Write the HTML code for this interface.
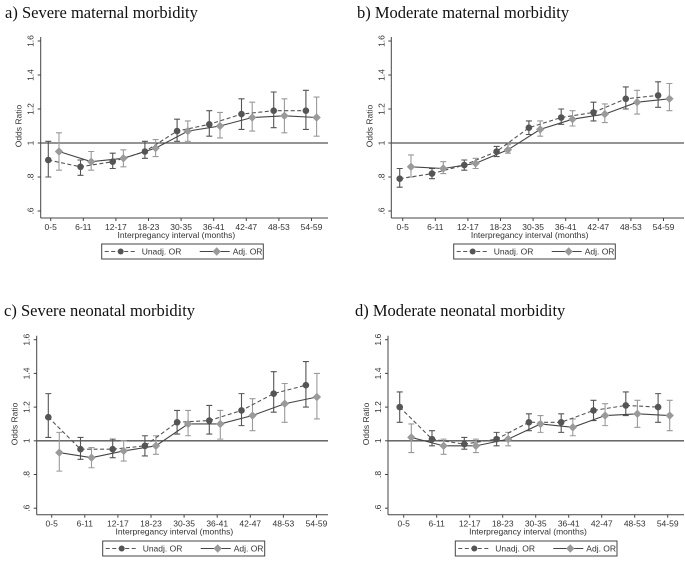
<!DOCTYPE html>
<html><head><meta charset="utf-8">
<style>
html,body{margin:0;padding:0;background:#fff;}
svg{display:block;}
.t{font-family:"Liberation Serif",serif;font-size:16.5px;fill:#111;}
.s{font-family:"Liberation Sans",sans-serif;font-size:8.5px;fill:#333;}
</style></head>
<body>
<svg id="chart" width="685" height="563" viewBox="0 0 685 563" xmlns="http://www.w3.org/2000/svg"></svg>
<script>
const categories = ["0-5","6-11","12-17","18-23","30-35","36-41","42-47","48-53","54-59"];
const yTicks = [0.6,0.8,1,1.2,1.4,1.6];
const yTickLabels = [".6",".8","1","1.2","1.4","1.6"];
const titles = ["a) Severe maternal morbidity","b) Moderate maternal morbidity","c) Severe neonatal morbidity","d) Moderate neonatal morbidity"];

const aUnadj = [0.90,0.86,0.89,0.95,1.07,1.11,1.17,1.19,1.19];
const aUnadjLo = [0.80,0.81,0.85,0.91,1.01,1.04,1.08,1.09,1.08];
const aUnadjHi = [1.01,0.90,0.94,1.01,1.14,1.19,1.26,1.30,1.31];
const aAdj = [0.95,0.89,0.91,0.97,1.07,1.10,1.15,1.16,1.15];
const aAdjLo = [0.84,0.84,0.86,0.92,1.01,1.03,1.07,1.06,1.04];
const aAdjHi = [1.06,0.95,0.96,1.02,1.13,1.18,1.24,1.26,1.27];

const bUnadj = [0.79,0.82,0.87,0.95,1.09,1.15,1.18,1.26,1.28];
const bUnadjLo = [0.74,0.79,0.84,0.92,1.05,1.11,1.13,1.20,1.21];
const bUnadjHi = [0.85,0.85,0.90,0.98,1.13,1.20,1.24,1.33,1.36];
const bAdj = [0.86,0.85,0.88,0.96,1.08,1.14,1.17,1.24,1.26];
const bAdjLo = [0.80,0.82,0.85,0.94,1.04,1.10,1.12,1.17,1.19];
const bAdjHi = [0.93,0.89,0.91,0.99,1.13,1.19,1.23,1.31,1.35];

const cUnadj = [1.14,0.95,0.95,0.97,1.11,1.12,1.18,1.28,1.33];
const cUnadjLo = [1.02,0.89,0.90,0.91,1.04,1.04,1.09,1.17,1.20];
const cUnadjHi = [1.28,1.02,1.01,1.03,1.18,1.21,1.28,1.41,1.47];
const cAdj = [0.93,0.90,0.94,0.97,1.10,1.10,1.15,1.22,1.26];
const cAdjLo = [0.82,0.84,0.88,0.92,1.03,1.01,1.06,1.11,1.13];
const cAdjHi = [1.05,0.96,1.00,1.03,1.18,1.18,1.25,1.34,1.40];

const dUnadj = [1.20,1.01,0.98,1.01,1.11,1.11,1.18,1.21,1.20];
const dUnadjLo = [1.11,0.97,0.95,0.97,1.06,1.05,1.12,1.15,1.11];
const dUnadjHi = [1.29,1.06,1.02,1.05,1.16,1.16,1.24,1.29,1.28];
const dAdj = [1.02,0.97,0.97,1.01,1.10,1.08,1.15,1.16,1.15];
const dAdjLo = [0.93,0.92,0.93,0.97,1.05,1.03,1.09,1.08,1.06];
const dAdjHi = [1.10,1.01,1.01,1.05,1.15,1.13,1.22,1.24,1.24];

const NS="http://www.w3.org/2000/svg";
const svg=document.getElementById('chart');
function mk(tag,attrs,parent,text){const e=document.createElementNS(NS,tag);for(const k in attrs)e.setAttribute(k,attrs[k]);if(text!==undefined)e.textContent=text;(parent||svg).appendChild(e);return e;}

const layouts=[
 {id:'a',tx:5,ty:18,ax:40.7,right:328,top:41,per:34,bot:218,tick0:50.7,tstep:32.6,u0:48.3,a0:59,step:32.2,lx:101.7,ly:244,lw:161.6},
 {id:'b',tx:357,ty:18,ax:391.3,right:684,top:41,per:34,bot:218,tick0:402.7,tstep:32.6,u0:399.7,a0:411,step:32.3,lx:453.7,ly:244,lw:161.6},
 {id:'c',tx:4,ty:316,ax:36.7,right:328,top:339.7,per:33.7,bot:514.7,tick0:51.7,tstep:33.1,u0:48.3,a0:59.3,step:32.2,lx:102.7,ly:541,lw:162},
 {id:'d',tx:355,ty:316,ax:388,right:684,top:339.7,per:33.7,bot:514.7,tick0:403.7,tstep:33.0,u0:399.7,a0:411.3,step:32.3,lx:455.3,ly:541,lw:161.7}
];
const data=[
 [aUnadj,aUnadjLo,aUnadjHi,aAdj,aAdjLo,aAdjHi],
 [bUnadj,bUnadjLo,bUnadjHi,bAdj,bAdjLo,bAdjHi],
 [cUnadj,cUnadjLo,cUnadjHi,cAdj,cAdjLo,cAdjHi],
 [dUnadj,dUnadjLo,dUnadjHi,dAdj,dAdjLo,dAdjHi]
];
const UC='#555', AC='#9a9a9a';
function diamond(g,x,y,c){const r=4.2;return mk('polygon',{points:`${x},${y-r} ${x+r},${y} ${x},${y+r} ${x-r},${y}`,fill:c},g);}

layouts.forEach((L,p)=>{
 const [u,ul,uh,a,al,ah]=data[p];
 const Y=v=>L.top+(1.6-v)/0.2*L.per;
 const XU=i=>L.u0+i*L.step, XA=i=>L.a0+i*L.step, XT=i=>L.tick0+i*L.tstep;
 const g=mk('g',{});  
 const t=mk('text',{x:L.tx,y:L.ty,class:'t'},g,titles[p]);
  
 const ya=mk('line',{x1:L.ax,y1:L.top-4,x2:L.ax,y2:L.bot,stroke:'#444','stroke-width':1},g);
  
 const xa=mk('line',{x1:L.ax,y1:L.bot,x2:L.right,y2:L.bot,stroke:'#444','stroke-width':1},g);
  
 yTicks.forEach((v,i)=>{
  mk('line',{x1:L.ax-3,y1:Y(v),x2:L.ax,y2:Y(v),stroke:'#444'},g);
  const tx=L.ax-7, ty=Y(v);
  const lb=mk('text',{x:tx,y:ty,class:'s','text-anchor':'middle',transform:`rotate(-90 ${tx} ${ty})`},g,yTickLabels[i]);
   
 });
 const yt=mk('text',{x:L.ax-19,y:Y(1.1),class:'s','text-anchor':'middle',transform:`rotate(-90 ${L.ax-19} ${Y(1.1)})`},g,'Odds Ratio');
  
 categories.forEach((c,i)=>{
  mk('line',{x1:XT(i),y1:L.bot,x2:XT(i),y2:L.bot+3,stroke:'#444'},g);
  const lb=mk('text',{x:XT(i),y:L.bot+12,class:'s','text-anchor':'middle'},g,c);
   
 });
 const xt=mk('text',{x:(L.ax+L.right)/2-8,y:L.bot+20,class:'s','text-anchor':'middle'},g,'Interpregancy interval (months)');
  
 const ref=mk('line',{x1:L.ax,y1:Y(1),x2:L.right,y2:Y(1),stroke:'#555','stroke-width':1.3},g);
  
 function bars(X,lo,hi,col,name){
  lo.forEach((v,i)=>{
   const x=X(i);
   const e=mk('path',{d:`M${x-3},${Y(hi[i])}H${x+3}M${x},${Y(hi[i])}V${Y(v)}M${x-3},${Y(v)}H${x+3}`,stroke:col,'stroke-width':1.1,fill:'none'},g);
    
  });
 }
 bars(XU,ul,uh,UC,'unadj-error-bar');
 bars(XA,al,ah,AC,'adj-error-bar');
 const ul2=mk('polyline',{points:u.map((v,i)=>XU(i)+','+Y(v)).join(' '),fill:'none',stroke:UC,'stroke-width':1.1,'stroke-dasharray':'4,2.5'},g);
  
 const al2=mk('polyline',{points:a.map((v,i)=>XA(i)+','+Y(v)).join(' '),fill:'none',stroke:'#444','stroke-width':1.1},g);
  
 u.forEach((v,i)=>{const c=mk('circle',{cx:XU(i),cy:Y(v),r:3.3,fill:UC},g);
   });
 a.forEach((v,i)=>{const d=diamond(g,XA(i),Y(v),AC);
   });
 const lg=mk('g',{},g);  
 mk('rect',{x:L.lx,y:L.ly,width:L.lw,height:15,fill:'#fff',stroke:'#444','stroke-width':1},lg);
 const cy=L.ly+7.5;
 const e1=mk('g',{},lg);  
 mk('line',{x1:L.lx+3,y1:cy,x2:L.lx+35,y2:cy,stroke:UC,'stroke-dasharray':'4,2.5'},e1);
 mk('circle',{cx:L.lx+19,cy:cy,r:3,fill:UC},e1);
 mk('text',{x:L.lx+40,y:cy+3,class:'s'},e1,'Unadj. OR');
 const e2=mk('g',{},lg);  
 mk('line',{x1:L.lx+98,y1:cy,x2:L.lx+128,y2:cy,stroke:'#444'},e2);
 diamond(e2,L.lx+115,cy,AC);
 mk('text',{x:L.lx+131,y:cy+3,class:'s'},e2,'Adj. OR');
});
</script>
</body></html>
